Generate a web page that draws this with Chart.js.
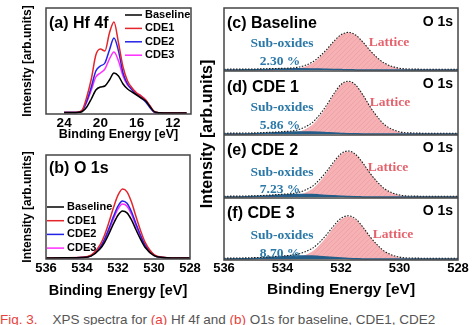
<!DOCTYPE html>
<html>
<head>
<meta charset="utf-8">
<script src="https://cdn.jsdelivr.net/npm/chart.js@4.4.1/dist/chart.umd.min.js"></script>
<style>
  body { margin: 0; background: #fff; }
  #wrap { position: relative; width: 474px; height: 325px; overflow: hidden; font-family: "Liberation Sans", Arial, sans-serif; }
  canvas { position: absolute; }
  .lab { position: absolute; font-weight: bold; white-space: nowrap; line-height: 18px; color: #000; }
  .ser { position: absolute; font: bold 13.5px "Liberation Serif", "Times New Roman", serif; white-space: nowrap; line-height: 16px; text-align: center; width: 100px; }
  .sub { color: #2b78a8; }
  .lat { color: #e5636d; }
</style>
</head>
<body>
<div id="wrap">
  <canvas id="chartA" width="210" height="150" style="left:0;top:0"></canvas>
  <canvas id="chartB" width="210" height="150" style="left:0;top:150px"></canvas>
  <canvas id="chartC" width="264" height="71" style="left:210px;top:0"></canvas>
  <canvas id="chartD" width="264" height="64" style="left:210px;top:71px"></canvas>
  <canvas id="chartE" width="264" height="63" style="left:210px;top:135px"></canvas>
  <canvas id="chartF" width="264" height="102" style="left:210px;top:198px"></canvas>

  <div class="lab" style="left:49px;top:14px;font-size:16px">(a) Hf 4f</div>
  <div class="lab" style="left:49px;top:159px;font-size:16px">(b) O 1s</div>

  <div class="lab" style="left:227px;top:14px;font-size:16px">(c) Baseline</div>
  <div class="lab" style="left:227px;top:78px;font-size:16px">(d) CDE 1</div>
  <div class="lab" style="left:227px;top:141px;font-size:16px">(e) CDE 2</div>
  <div class="lab" style="left:227px;top:204px;font-size:16px">(f) CDE 3</div>

  <div class="lab" style="right:21px;top:12px;font-size:14px">O 1s</div>
  <div class="lab" style="right:21px;top:74px;font-size:14px">O 1s</div>
  <div class="lab" style="right:21px;top:138px;font-size:14px">O 1s</div>
  <div class="lab" style="right:21px;top:201px;font-size:14px">O 1s</div>

  <div class="ser sub" style="left:232px;top:35px">Sub-oxides</div>
  <div class="ser sub" style="left:230px;top:53px">2.30 %</div>
  <div class="ser lat" style="left:339px;top:34px">Lattice</div>

  <div class="ser sub" style="left:232px;top:99px">Sub-oxides</div>
  <div class="ser sub" style="left:230px;top:117px">5.86 %</div>
  <div class="ser lat" style="left:340px;top:94px">Lattice</div>

  <div class="ser sub" style="left:232px;top:164px">Sub-oxides</div>
  <div class="ser sub" style="left:230px;top:181px">7.23 %</div>
  <div class="ser lat" style="left:338px;top:159px">Lattice</div>

  <div class="ser sub" style="left:232px;top:227px">Sub-oxides</div>
  <div class="ser sub" style="left:230px;top:245px">8.70 %</div>
  <div class="ser lat" style="left:343px;top:226px">Lattice</div>

  <div class="lab" style="left:107px;top:125px;width:200px;text-align:center;font-size:16px;transform:rotate(-90deg)">Intensity [arb.units]</div>

  <div style="position:absolute;left:0;top:312px;font-size:13.5px;line-height:16px;color:#555;white-space:pre"><span style="color:#e8413c">Fig. 3.</span>    XPS spectra for <span style="color:#e8413c">(a)</span> Hf 4f and <span style="color:#e8413c">(b)</span> O1s for baseline, CDE1, CDE2</div>
</div>

<script>
const FONT = '"Liberation Sans", Arial, sans-serif';

// (a) Hf 4f spectra
const hfEnergy = [24, 23, 22.5, 22, 21.5, 21, 20.5, 20, 19.5, 19, 18.5, 18, 17.5, 17, 16.5, 16, 15.5, 15, 14.5, 14, 13, 12, 10.5];
const hfBaseline = [0.5, 0.5, 0.6, 1.5, 6, 14, 23, 26, 27, 33, 40, 37, 29, 24, 21, 18, 15, 12, 6, 1, 0, 0, 0];
const hfCde1 = [0.5, 0.5, 0.8, 3, 16, 34, 58, 64, 62, 80, 91, 70, 46, 32, 25, 20, 17, 13, 7, 1, 0, 0, 0];
const hfCde2 = [0.5, 0.5, 0.7, 2.5, 12, 26, 42, 47, 50, 63, 75, 62, 40, 29, 23, 19, 15, 11, 5, 0.5, 0, 0, 0];
const hfCde3 = [0.5, 0.5, 0.7, 2.5, 11, 23, 36, 40, 44, 54, 61, 52, 37, 28, 24, 20, 17, 13, 6, 0.5, 0, 0, 0];
const hfTicks = [24, 20, 16, 12];

// (b) O 1s spectra
const oEnergy = [536, 535, 534, 533.5, 533, 532.75, 532.5, 532.25, 532, 531.75, 531.5, 531.25, 531, 530.75, 530.5, 530, 529.5, 529, 528];
const oBaseline = [0, 0.2, 0.5, 1.9, 8.9, 15.5, 24.4, 34.3, 42.8, 47, 45.1, 38.1, 28.2, 18.8, 10.8, 2.4, 0.5, 0, 0];
const oCde1 = [0, 0.3, 0.7, 2.8, 13.1, 22.8, 35.9, 50.4, 62.8, 69, 66.2, 55.9, 41.4, 27.6, 15.9, 3.5, 0.7, 0, 0];
const oCde2 = [0, 0.3, 0.6, 2.3, 10.8, 18.8, 29.6, 41.6, 51.9, 57, 54.7, 46.2, 34.2, 22.8, 13.1, 2.9, 0.6, 0, 0];
const oCde3 = [0, 0.3, 0.5, 2.2, 10.3, 17.8, 28.1, 39.4, 49.1, 54, 51.8, 43.7, 32.4, 21.6, 12.4, 2.7, 0.5, 0, 0];
const oTicks = [536, 534, 532, 530, 528];

// (c)-(f) O 1s fits
const fitEnergy = [536, 535.5, 535, 534.5, 534, 533.5, 533, 532.75, 532.5, 532.25, 532, 531.75, 531.5, 531.25, 531, 530.75, 530.5, 530, 529.5, 529, 528.5, 528];
const latticeC = [0, 0, 0, 0, 0.1, 1, 5.9, 11.5, 18.9, 27.4, 34.4, 37, 34.4, 27.4, 18.9, 11.5, 5.9, 1, 0.1, 0, 0, 0];
const latticeD = [0, 0, 0, 0, 0.2, 1.4, 8.3, 16.1, 26.5, 38.5, 48.4, 52, 48.4, 38.5, 26.5, 16.1, 8.3, 1.4, 0.2, 0, 0, 0];
const latticeE = [0, 0, 0, 0, 0.1, 1.2, 7.2, 14, 23, 33.3, 41.9, 45, 41.9, 33.3, 23, 14, 7.2, 1.2, 0.1, 0, 0, 0];
const latticeF = [0, 0, 0, 0, 0.1, 1.1, 6.7, 13, 21.4, 31.1, 39.1, 42, 39.1, 31.1, 21.4, 13, 6.7, 1.1, 0.1, 0, 0, 0];
const subC = [0, 0.1, 0.2, 0.5, 0.9, 1.2, 1.1, 1, 0.8, 0.6, 0.4, 0.2, 0.1, 0, 0, 0, 0, 0, 0, 0, 0, 0];
const subD = [0, 0.1, 0.3, 0.8, 1.5, 1.9, 1.9, 1.7, 1.3, 0.9, 0.6, 0.3, 0.2, 0.1, 0, 0, 0, 0, 0, 0, 0, 0];
const subE = [0, 0.1, 0.4, 1, 1.9, 2.4, 2.4, 2.1, 1.6, 1.2, 0.8, 0.4, 0.2, 0.1, 0, 0, 0, 0, 0, 0, 0, 0];
const subF = [0, 0.2, 0.5, 1.2, 2.2, 2.9, 2.9, 2.5, 2, 1.4, 0.9, 0.5, 0.3, 0.1, 0.1, 0, 0, 0, 0, 0, 0, 0];
const rawC = [0.8, 0.9, 1, 1.3, 1.7, 2.6, 7.5, 13, 20.2, 28.5, 35.2, 37.6, 35, 27.9, 19.3, 12, 6.6, 1.8, 0.9, 0.8, 0.8, 0.8];
const rawD = [0.8, 0.9, 1.1, 1.6, 2.4, 4, 11, 18.5, 28.5, 40, 49.5, 52.8, 49, 39, 27, 16.9, 9.1, 2.2, 1, 0.8, 0.8, 0.8];
const rawE = [0.8, 0.9, 1.2, 1.8, 2.8, 4.3, 10.3, 16.8, 25.3, 35, 43.2, 46, 42.6, 33.9, 23.5, 14.8, 8, 2, 0.9, 0.8, 0.8, 0.8];
const rawF = [0.8, 1, 1.3, 2, 3.1, 4.7, 10.4, 16.2, 24.1, 33.2, 40.7, 43.2, 40.1, 31.8, 22, 13.8, 7.5, 1.9, 0.9, 0.8, 0.8, 0.8];

// faintly hatched pink fill for the lattice peak
const pc = document.createElement('canvas');
pc.width = 5; pc.height = 5;
const pctx = pc.getContext('2d');
pctx.fillStyle = '#f5b1b3';
pctx.fillRect(0, 0, 5, 5);
pctx.strokeStyle = 'rgba(235,140,145,0.35)';
pctx.lineWidth = 1;
pctx.beginPath(); pctx.moveTo(0, 5); pctx.lineTo(5, 0); pctx.stroke();
const pinkHatch = pctx.createPattern(pc, 'repeat');

const frame = {
  id: 'frame',
  afterDraw(chart) {
    const { ctx, chartArea: a } = chart;
    ctx.save();
    ctx.strokeStyle = '#444';
    ctx.lineWidth = 1.5;
    ctx.strokeRect(a.left, a.top, a.right - a.left, a.bottom - a.top);
    ctx.restore();
  }
};

const insideLegend = {
  id: 'insideLegend',
  afterDraw(chart, args, opts) {
    if (opts.x === undefined) return;
    const ctx = chart.ctx;
    ctx.save();
    ctx.font = 'bold 11px ' + FONT;
    ctx.textBaseline = 'middle';
    chart.data.datasets.forEach((ds, i) => {
      const y = opts.y + i * opts.gap;
      ctx.strokeStyle = ds.borderColor;
      ctx.lineWidth = 1.5;
      ctx.beginPath(); ctx.moveTo(opts.x, y); ctx.lineTo(opts.x + 17, y); ctx.stroke();
      ctx.fillStyle = '#000';
      ctx.fillText(ds.label, opts.x + 20, y);
    });
    ctx.restore();
  }
};

function line(label, xs, ys, color, extra) {
  return Object.assign({
    label,
    data: xs.map((x, i) => ({ x, y: ys[i] })),
    borderColor: color,
    borderWidth: 1.5,
    pointRadius: 0,
    fill: false,
    cubicInterpolationMode: 'monotone'
  }, extra || {});
}

function makeChart(id, datasets, cfg) {
  return new Chart(document.getElementById(id), {
    type: 'line',
    data: { datasets },
    options: {
      responsive: false,
      animation: false,
      layout: { padding: cfg.padding },
      plugins: {
        legend: { display: false },
        tooltip: { enabled: false },
        insideLegend: cfg.legend || {}
      },
      scales: {
        x: {
          type: 'linear',
          min: cfg.xMin, max: cfg.xMax, reverse: true,
          display: !!cfg.xTicks,
          grid: { display: false, drawTicks: false },
          border: { display: false },
          afterBuildTicks: s => { if (cfg.xTicks) s.ticks = cfg.xTicks.map(v => ({ value: v })); },
          afterFit: s => { if (cfg.xHeight) s.height = cfg.xHeight; },
          ticks: { color: '#000', padding: cfg.tickPad || 0, maxRotation: 0, autoSkip: false,
                   font: { family: FONT, weight: 'bold', size: cfg.tickSize || 13 } },
          title: {
            display: !!cfg.xTitleSize,
            text: 'Binding Energy [eV]',
            color: '#000',
            font: { family: FONT, weight: 'bold', size: cfg.xTitleSize || 12 },
            padding: { top: 0, bottom: cfg.xTitlePad || 0 }
          }
        },
        y: {
          min: cfg.yMin, max: cfg.yMax,
          display: !!cfg.yTitle,
          grid: { display: false, drawTicks: false },
          border: { display: false },
          ticks: { display: false },
          afterFit: s => { if (cfg.yWidth) s.width = cfg.yWidth; },
          title: {
            display: !!cfg.yTitle,
            text: 'Intensity [arb.units]',
            color: '#000',
            font: { family: FONT, weight: 'bold', size: 12 },
            padding: { top: 20, bottom: 0 }
          }
        }
      }
    },
    plugins: [frame, insideLegend]
  });
}

const BLACK = '#000000', RED = '#e3262b', BLUE = '#2323e6', MAGENTA = '#ff2cff';

makeChart('chartA', [
  line('Baseline', hfEnergy, hfBaseline, BLACK),
  line('CDE1', hfEnergy, hfCde1, RED),
  line('CDE2', hfEnergy, hfCde2, BLUE),
  line('CDE3', hfEnergy, hfCde3, MAGENTA)
], {
  padding: { left: 0, top: 8, right: 19, bottom: 0 },
  xMin: 10, xMax: 26, xTicks: hfTicks, xHeight: 36, tickPad: 1, tickSize: 13.5,
  xTitleSize: 12.5, xTitlePad: 7.5,
  yMin: -1, yMax: 105, yTitle: true, yWidth: 46,
  legend: { x: 125, y: 15, gap: 13.4 }
});

makeChart('chartB', [
  line('Baseline', oEnergy, oBaseline, BLACK),
  line('CDE1', oEnergy, oCde1, RED),
  line('CDE2', oEnergy, oCde2, BLUE),
  line('CDE3', oEnergy, oCde3, MAGENTA)
], {
  padding: { left: 0, top: 5, right: 20, bottom: 0 },
  xMin: 528, xMax: 536, xTicks: oTicks, xHeight: 41, tickPad: 2, tickSize: 13,
  xTitleSize: 14.5, xTitlePad: 0,
  yMin: -1, yMax: 103, yTitle: true, yWidth: 46,
  legend: { x: 47, y: 57, gap: 13.7 }
});

function fitSets(lattice, sub, raw) {
  return [
    line('Data', fitEnergy, raw, '#1a1a1a', { borderWidth: 1.1, borderDash: [1.5, 1.5] }),
    line('Sub-oxides', fitEnergy, sub, '#235d8a', { borderWidth: 1.5, fill: 'origin', backgroundColor: '#235d8a' }),
    line('Lattice', fitEnergy, lattice, '#f3a5a8', { borderWidth: 0.8, fill: 'origin', backgroundColor: pinkHatch })
  ];
}

const rightPad = { left: 14, right: 16, bottom: 0 };
makeChart('chartC', fitSets(latticeC, subC, rawC), {
  padding: Object.assign({ top: 8 }, rightPad), xMin: 528, xMax: 536, yMin: -1, yMax: 62
});
makeChart('chartD', fitSets(latticeD, subD, rawD), {
  padding: Object.assign({ top: 0 }, rightPad), xMin: 528, xMax: 536, yMin: -1, yMax: 63
});
makeChart('chartE', fitSets(latticeE, subE, rawE), {
  padding: Object.assign({ top: 0 }, rightPad), xMin: 528, xMax: 536, yMin: -1, yMax: 62
});
makeChart('chartF', fitSets(latticeF, subF, rawF), {
  padding: Object.assign({ top: 0 }, rightPad), xMin: 528, xMax: 536, yMin: -1, yMax: 61,
  xTicks: oTicks, xHeight: 40, tickPad: 1, tickSize: 13, xTitleSize: 15.5, xTitlePad: 0.7
});
</script>
</body>
</html>
